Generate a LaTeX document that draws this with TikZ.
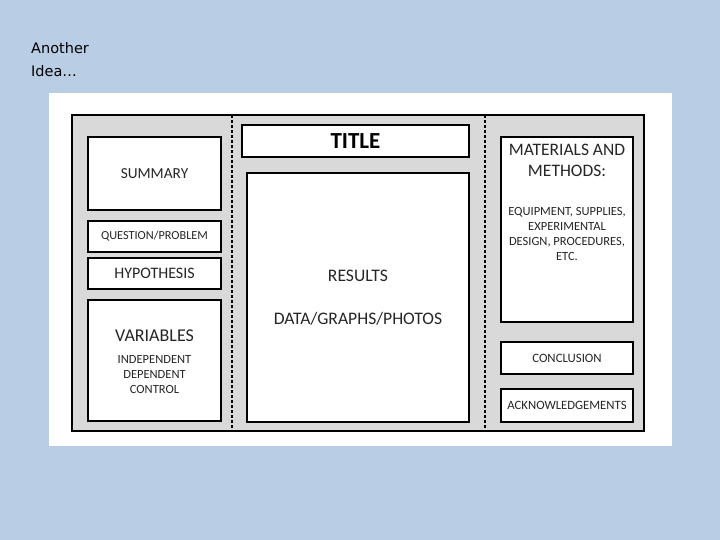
\documentclass[tikz,border=0pt]{standalone}
\usepackage{fontspec}
\setmainfont{Carlito}
\newfontfamily\notefont{DejaVu Sans}
\definecolor{bgblue}{HTML}{B9CDE5}
\definecolor{postergray}{HTML}{D9D9D9}
\begin{document}
\begin{tikzpicture}[x=1pt,y=-1pt,
  box/.style={draw=black,line width=1.8pt,fill=white,inner sep=0pt,align=center,text=black!85},
  txt/.style={inner sep=0pt,align=center,text=black!85},
  divider/.style={draw=black,line width=1.8pt,dash pattern=on 3pt off 2pt}]
\fill[bgblue] (0,0) rectangle (720,540);
\useasboundingbox (0,0) rectangle (720,540);
% note
\node[inner sep=0pt,anchor=base west,font=\notefont\fontsize{14.5}{17}\selectfont] (note1) at (31,54) {Another};
\node[inner sep=0pt,anchor=base west,font=\notefont\fontsize{14.5}{17}\selectfont] (note2) at (31,77) {Idea\ldots};
% white sheet
\node[fill=white,inner sep=0pt,minimum width=623pt,minimum height=353pt] (sheet) at (360.5,269.5) {};
% poster
\node[draw=black,line width=1.6pt,fill=postergray,inner sep=0pt,minimum width=572pt,minimum height=316pt] (poster) at (358,273) {};
\coordinate (d1t) at (232,115); \coordinate (d1b) at (232,431);
\coordinate (d2t) at (485,115); \coordinate (d2b) at (485,431);
\draw[divider] (d1t) -- (d1b);
\draw[divider] (d2t) -- (d2b);
% left column
\node[box,minimum width=133pt,minimum height=73pt,font=\fontsize{15.3}{18}\selectfont] (summary) at (154.5,173.5) {SUMMARY};
\node[box,minimum width=133pt,minimum height=31pt,font=\fontsize{12.3}{15}\selectfont] (question) at (154.5,236.5) {QUESTION/PROBLEM};
\node[box,minimum width=133pt,minimum height=31pt,font=\fontsize{16}{18}\selectfont] (hypothesis) at (154.5,273.5) {HYPOTHESIS};
\node[box,minimum width=133pt,minimum height=121pt] (variables) at (154.5,360.5) {};
\node[txt,font=\fontsize{18}{20}\selectfont] (varT) at (154.5,336) {VARIABLES};
\node[txt,font=\fontsize{12.5}{15}\selectfont] (varS) at (154.5,374.5) {INDEPENDENT\\DEPENDENT\\CONTROL};
% centre column
\node[box,minimum width=227pt,minimum height=32pt,font=\fontsize{23}{26}\selectfont\bfseries,text=black] (title) at (355.5,141) {TITLE};
\node[box,minimum width=222pt,minimum height=249pt] (results) at (358,297.5) {};
\node[txt,font=\fontsize{17.6}{20}\selectfont] (resT) at (358,276) {RESULTS};
\node[txt,font=\fontsize{17.6}{20}\selectfont] (resS) at (358,319) {DATA/GRAPHS/PHOTOS};
% right column
\node[box,minimum width=132pt,minimum height=185pt] (materials) at (567,229.5) {};
\node[txt,font=\fontsize{17.5}{21}\selectfont] (matT) at (567,160.5) {MATERIALS AND\\METHODS:};
\node[txt,font=\fontsize{12.5}{15}\selectfont] (matS) at (567,233.5) {EQUIPMENT, SUPPLIES,\\EXPERIMENTAL\\DESIGN, PROCEDURES,\\ETC.};
\node[box,minimum width=132pt,minimum height=32pt,font=\fontsize{12.8}{15}\selectfont] (conclusion) at (567,358) {CONCLUSION};
\node[box,minimum width=132pt,minimum height=33pt,font=\fontsize{12.7}{15}\selectfont] (ack) at (567,405.5) {ACKNOWLEDGEMENTS};
\end{tikzpicture}
\end{document}
